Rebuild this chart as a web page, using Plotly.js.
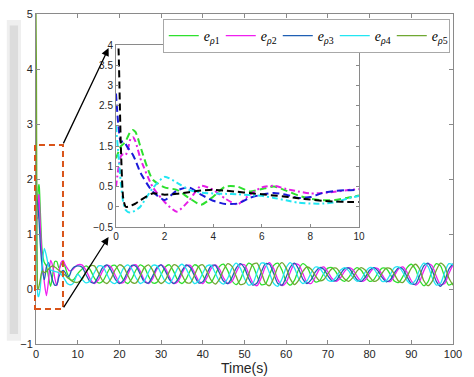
<!DOCTYPE html>
<html><head><meta charset="utf-8">
<script src="https://cdn.plot.ly/plotly-3.0.1.min.js"></script>
<style>body{margin:0;background:#fff}#c{width:474px;height:377px}</style>
</head><body><div id="c"></div>
<script>
// early transient (0-10 s), shared by main chart and inset
const tIn = [0,0.1,0.2,0.3,0.4,0.5,0.6,0.7,0.8,0.9,1.0,1.5,2,2.5,3,3.5,4,4.5,5,5.5,6,6.5,7,7.5,8,8.5,9,9.5,10];
const e1In = [1.2,1.35,1.5,1.55,1.62,1.75,1.86,1.9,1.85,1.7,1.5,0.68,0.48,0.42,0.22,0.05,0.25,0.5,0.5,0.38,0.44,0.5,0.4,0.28,0.2,0.16,0.17,0.22,0.28];
const e2In = [0.5,0.95,1.25,1.3,1.28,1.45,1.68,1.72,1.62,1.42,1.2,0.5,0.12,-0.12,0.15,0.52,0.42,0.2,0.06,0.3,0.48,0.52,0.44,0.38,0.33,0.34,0.37,0.41,0.44];
const e3In = [2.8,2.0,1.6,1.62,1.55,1.45,1.38,1.28,1.15,1.0,0.85,0.38,0.17,0.4,0.48,0.3,0.15,0.07,0.08,0.22,0.3,0.34,0.3,0.22,0.24,0.34,0.39,0.41,0.42];
const e4In = [2.0,1.3,0.6,0.1,-0.08,-0.13,-0.14,-0.12,-0.09,-0.05,0.0,0.45,0.74,0.6,0.42,0.35,0.33,0.32,0.31,0.29,0.27,0.22,0.16,0.1,0.08,0.08,0.11,0.2,0.27];
const e5In = [5,4.0,1.5,0.2,0.0,0.0,0.02,0.05,0.08,0.12,0.16,0.33,0.3,0.32,0.36,0.4,0.42,0.4,0.37,0.34,0.31,0.28,0.25,0.21,0.18,0.15,0.13,0.12,0.12];

// steady part (11-100 s)
const tLate = [11,12,13,14,15,16,17,18,19,20,21,22,23,24,25,26,27,28,29,30,31,32,33,34,35,36,37,38,39,40,41,42,43,44,45,46,47,48,49,50,51,52,53,54,55,56,57,58,59,60,61,62,63,64,65,66,67,68,69,70,71,72,73,74,75,76,77,78,79,80,81,82,83,84,85,86,87,88,89,90,91,92,93,94,95,96,97,98,99,100];
const e1Late = [0.36,0.42,0.35,0.20,0.11,0.14,0.28,0.41,0.43,0.31, 0.16,0.10,0.19,0.35,0.44,0.39,0.23,0.11,0.12,0.26, 0.40,0.44,0.32,0.16,0.10,0.18,0.34,0.44,0.40,0.25, 0.12,0.12,0.26,0.41,0.45,0.33,0.15,0.08,0.17,0.36, 0.47,0.42,0.24,0.08,0.09,0.26,0.43,0.47,0.34,0.14, 0.07,0.16,0.36,0.46,0.40,0.24,0.13,0.15,0.28,0.38, 0.39,0.30,0.18,0.14,0.21,0.33,0.39,0.34,0.22,0.14, 0.17,0.29,0.38,0.37,0.26,0.14,0.12,0.23,0.39,0.45, 0.36,0.16,0.06,0.13,0.33,0.46,0.42,0.22,0.07,0.11];
const e2Late = [0.44,0.34,0.18,0.10,0.17,0.33,0.43,0.40,0.25,0.12, 0.12,0.26,0.41,0.44,0.32,0.16,0.10,0.19,0.36,0.44, 0.38,0.22,0.10,0.13,0.28,0.42,0.43,0.30,0.15,0.10, 0.21,0.37,0.44,0.36,0.20,0.10,0.14,0.30,0.44,0.44, 0.28,0.11,0.06,0.20,0.40,0.48,0.37,0.17,0.06,0.12, 0.31,0.46,0.44,0.28,0.12,0.10,0.22,0.36,0.40,0.31, 0.19,0.14,0.20,0.32,0.39,0.35,0.23,0.14,0.17,0.29, 0.38,0.37,0.26,0.15,0.14,0.25,0.37,0.40,0.30,0.15, 0.07,0.14,0.33,0.46,0.42,0.23,0.08,0.10,0.28,0.44];
const e3Late = [0.40,0.26,0.13,0.11,0.24,0.39,0.44,0.34,0.18,0.10, 0.16,0.32,0.43,0.41,0.27,0.13,0.11,0.24,0.39,0.44, 0.33,0.17,0.10,0.17,0.33,0.44,0.39,0.24,0.11,0.13, 0.28,0.42,0.43,0.29,0.14,0.10,0.21,0.38,0.46,0.38, 0.19,0.07,0.11,0.30,0.46,0.45,0.28,0.10,0.07,0.22, 0.40,0.47,0.36,0.18,0.10,0.17,0.31,0.39,0.36,0.24, 0.15,0.16,0.27,0.37,0.38,0.28,0.17,0.14,0.22,0.34, 0.39,0.33,0.21,0.13,0.17,0.30,0.39,0.36,0.22,0.10, 0.09,0.24,0.42,0.47,0.34,0.14,0.05,0.15,0.36,0.46];
const e4Late = [0.18,0.11,0.15,0.30,0.42,0.41,0.27,0.13,0.10,0.22, 0.38,0.44,0.36,0.20,0.10,0.15,0.31,0.43,0.42,0.28, 0.14,0.10,0.22,0.38,0.45,0.37,0.21,0.10,0.14,0.29, 0.42,0.43,0.29,0.14,0.09,0.20,0.38,0.47,0.38,0.19, 0.07,0.10,0.30,0.47,0.46,0.29,0.10,0.05,0.18,0.39, 0.48,0.38,0.19,0.10,0.15,0.30,0.40,0.38,0.27,0.16, 0.14,0.22,0.34,0.39,0.33,0.21,0.14,0.18,0.31,0.39, 0.37,0.25,0.14,0.15,0.27,0.39,0.40,0.30,0.15,0.09, 0.16,0.36,0.47,0.41,0.21,0.07,0.10,0.30,0.46,0.44];
const e5Late = [0.17,0.31,0.42,0.42,0.29,0.15,0.10,0.19,0.35,0.44, 0.40,0.25,0.12,0.11,0.24,0.39,0.44,0.34,0.18,0.10, 0.16,0.32,0.44,0.41,0.26,0.12,0.11,0.25,0.41,0.44, 0.32,0.16,0.09,0.18,0.35,0.46,0.41,0.23,0.08,0.10, 0.27,0.45,0.47,0.31,0.11,0.06,0.20,0.40,0.48,0.38, 0.18,0.08,0.16,0.32,0.40,0.36,0.24,0.15,0.17,0.28, 0.37,0.38,0.29,0.18,0.14,0.21,0.33,0.39,0.34,0.22, 0.14,0.17,0.29,0.38,0.37,0.26,0.14,0.12,0.23,0.38, 0.45,0.36,0.15,0.06,0.14,0.34,0.47,0.41,0.20,0.07];

const names = ['<i>e</i><sub><i>ρ</i>1</sub>','<i>e</i><sub><i>ρ</i>2</sub>','<i>e</i><sub><i>ρ</i>3</sub>','<i>e</i><sub><i>ρ</i>4</sub>','<i>e</i><sub><i>ρ</i>5</sub>'];
const mainColors = ['#2ee02e','#f01ef0','#1f5fb4','#22e6f2','#6fa832'];
const insetColors = ['#2ee02e','#e61ee6','#1a1ad8','#22e6f2','#000000'];
const insetDash = ['7px,4px','6px,3px,2px,3px','7px,4px','6px,3px,2px,3px','7px,4px'];
const early = [e1In,e2In,e3In,e4In,e5In];
const late = [e1Late,e2Late,e3Late,e4Late,e5Late];

const tMain = tIn.concat(tLate);
const traces = [];
for (let i = 0; i < 5; i++) {
  traces.push({x: tMain, y: early[i].concat(late[i]), type:'scatter', mode:'lines', name: names[i],
    line:{color: mainColors[i], width:1.3, shape:'spline', smoothing:0.7}, xaxis:'x', yaxis:'y'});
}
for (let i = 0; i < 5; i++) {
  traces.push({x: tIn, y: early[i], type:'scatter', mode:'lines', showlegend:false,
    line:{color: insetColors[i], width:2, dash: insetDash[i], shape:'spline', smoothing:0.6}, xaxis:'x2', yaxis:'y2'});
}

const axCol = '#8a8a8a';
const tf = {family:'Liberation Sans, Arial, sans-serif', size:11, color:'#262626'};
const tf2 = {family:'Liberation Sans, Arial, sans-serif', size:10, color:'#262626'};
const layout = {
  width:474, height:377,
  margin:{l:36, r:21, t:14, b:33, autoexpand:false},
  paper_bgcolor:'#ffffff', plot_bgcolor:'#ffffff',
  showlegend:true,
  legend:{orientation:'h', x:0.304, y:0.985, xanchor:'left', yanchor:'top',
    bgcolor:'#ffffff', bordercolor:'#a8a8a8', borderwidth:1,
    font:{family:'Liberation Serif, Times New Roman, serif', size:14, color:'#000'},
    itemwidth:30, entrywidth:12, entrywidthmode:'pixels', tracegroupgap:0},
  xaxis:{domain:[0,1], range:[0,100], dtick:10, tick0:0, ticks:'inside', ticklen:4, tickcolor:axCol,
    showline:true, linecolor:axCol, mirror:'ticks', showgrid:false, zeroline:false, tickfont:tf,
    title:{text:'Time(s)', font:{family:'Liberation Sans, Arial, sans-serif', size:14, color:'#262626'}, standoff:2}},
  yaxis:{domain:[0,1], range:[-1,5], dtick:1, tick0:0, ticks:'inside', ticklen:4, tickcolor:axCol,
    showline:true, linecolor:axCol, mirror:'ticks', showgrid:false, zeroline:false, tickfont:tf},
  xaxis2:{domain:[0.1918,0.7746], anchor:'y2', range:[0,10], dtick:2, tick0:0, ticks:'inside', ticklen:3, tickcolor:axCol,
    showline:true, linecolor:axCol, mirror:'ticks', showgrid:false, zeroline:false, tickfont:tf2},
  yaxis2:{domain:[0.3545,0.906], anchor:'x2', range:[-0.5,4], dtick:0.5, tick0:0, ticks:'inside', ticklen:3, tickcolor:axCol,
    showline:true, linecolor:axCol, mirror:'ticks', showgrid:false, zeroline:false, tickfont:tf2},
  shapes:[
    {type:'rect', xref:'paper', yref:'paper', x0:-0.07, x1:-0.036, y0:0.01, y1:0.982, fillcolor:'#efefef', line:{width:0}, layer:'below'},
    {type:'rect', xref:'paper', yref:'paper', x0:-0.063, x1:-0.043, y0:0.03, y1:0.965, fillcolor:'#dcdcdc', line:{width:0}, layer:'below'},
    {type:'rect', xref:'paper', yref:'paper', x0:-0.0024, x1:0.0647, y0:0.106, y1:0.603, line:{color:'#d95319', width:2, dash:'6px,4px'}, layer:'above'}
  ],
  annotations:[
    {xref:'x', yref:'y', axref:'x', ayref:'y', x:17.4, y:4.38, ax:6.4, ay:2.62, text:'', showarrow:true, arrowhead:2, arrowsize:1.2, arrowwidth:1.3, arrowcolor:'#000'},
    {xref:'x', yref:'y', axref:'x', ayref:'y', x:17.4, y:0.945, ax:6.4, ay:-0.36, text:'', showarrow:true, arrowhead:2, arrowsize:1.2, arrowwidth:1.3, arrowcolor:'#000'}
  ]
};
Plotly.newPlot('c', traces, layout, {displayModeBar:false, staticPlot:true});
</script></body></html>
